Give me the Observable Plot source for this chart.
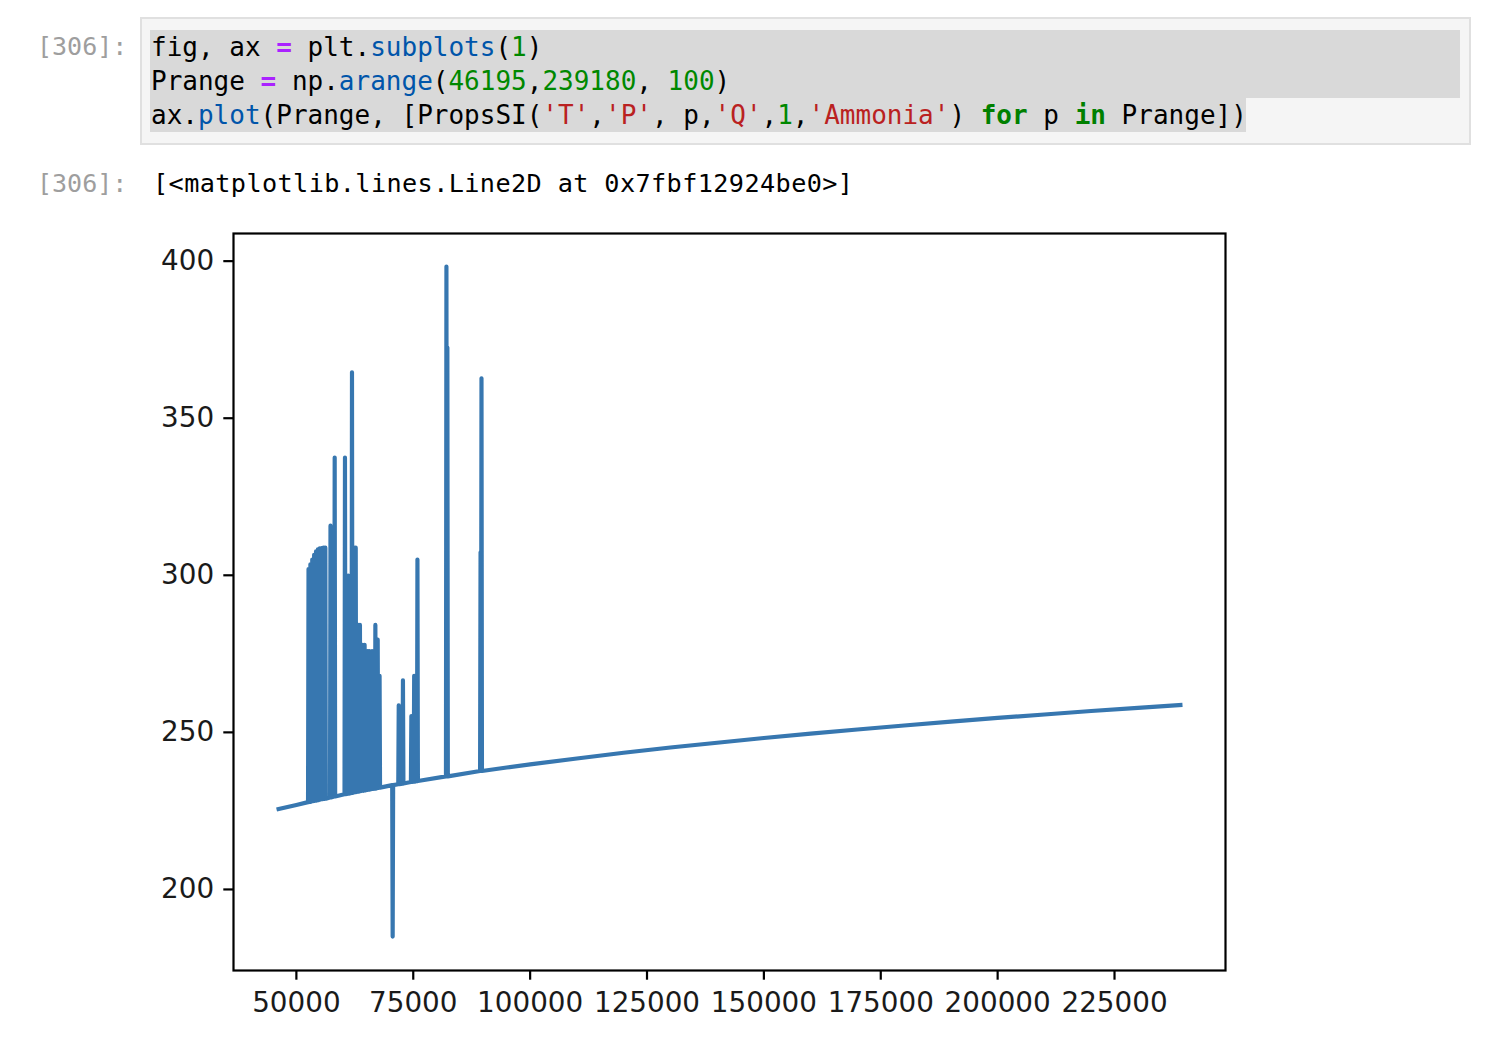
<!DOCTYPE html>
<html>
<head>
<meta charset="utf-8">
<script src="https://cdn.jsdelivr.net/npm/d3@7"></script>
<script src="https://cdn.jsdelivr.net/npm/@observablehq/plot@0.6"></script>
<style>
  html, body { margin: 0; padding: 0; background: #ffffff; }
  body { width: 1490px; height: 1058px; position: relative; overflow: hidden; }
  .mono { font-family: "DejaVu Sans Mono", monospace; white-space: pre; }
  .prompt { position: absolute; color: #9e9e9e; font-size: 25px; line-height: 34px; }
  .cell { position: absolute; left: 140px; top: 17px; width: 1327px; height: 124px; border: 2px solid #e0e0e0; background: #f5f5f5; }
  .sel { position: absolute; background: #d9d9d9; }
  .line { position: absolute; left: 151px; height: 34px; font-size: 26px; line-height: 34px; color: #000; display: flex; }
  .line span { display: block; }
  .op { color: #aa22ff; font-weight: bold; }
  .prop { color: #0055aa; }
  .num { color: #008800; }
  .str { color: #ba2121; }
  .kw { color: #008000; font-weight: bold; }
  .out { position: absolute; left: 153px; top: 167px; font-size: 25.2px; letter-spacing: 0.4px; line-height: 34px; color: #000; }
  #chart { position: absolute; left: 140px; top: 220px; }
</style>
</head>
<body>
<div class="prompt mono" style="left:37px; top:30px;">[306]:</div>
<div class="cell"></div>
<div class="sel" style="left:150px; top:30px; width:1310px; height:68px;"></div>
<div class="sel" style="left:150px; top:98px; width:1096px; height:34px;"></div>
<div class="line mono" style="top:30px;"><span>fig, ax </span><span class="op">=</span><span> plt.</span><span class="prop">subplots</span><span>(</span><span class="num">1</span><span>)</span></div>
<div class="line mono" style="top:64px;"><span>Prange </span><span class="op">=</span><span> np.</span><span class="prop">arange</span><span>(</span><span class="num">46195</span><span>,</span><span class="num">239180</span><span>, </span><span class="num">100</span><span>)</span></div>
<div class="line mono" style="top:98px;"><span>ax.</span><span class="prop">plot</span><span>(Prange, [PropsSI(</span><span class="str">'T'</span><span>,</span><span class="str">'P'</span><span>, p,</span><span class="str">'Q'</span><span>,</span><span class="num">1</span><span>,</span><span class="str">'Ammonia'</span><span>) </span><span class="kw">for</span><span> p </span><span class="kw">in</span><span> Prange])</span></div>
<div class="prompt mono" style="left:37px; top:167px;">[306]:</div>
<div class="out mono">[&lt;matplotlib.lines.Line2D at 0x7fbf12924be0&gt;]</div>
<div id="chart"></div>
<script>
// Sample step of Prange (np.arange step in the cell above)
const sampleStep = 100;

// Saturation curve readings (pressure in Pa, temperature in K)
const basePressure = [46195, 50000, 95000, 100000, 110000, 120000, 130000, 140000, 150000, 160000, 170000, 180000, 190000, 200000, 210000, 220000, 230000, 239095];
const baseTemp     = [225.6, 226.9, 238.8, 239.8, 241.7, 243.5, 245.2, 246.7, 248.2, 249.6, 250.9, 252.2, 253.4, 254.6, 255.7, 256.8, 257.8, 258.7];

// Erroneous samples (spikes): pressure, returned temperature, curve temperature at its foot
const spikePressure = [52595, 52995, 53395, 53795, 54195, 54595, 54995, 55395, 55795, 56195,
                       57295, 58195, 60395, 61095, 61895, 62295, 62695, 63195, 63595, 64195,
                       64595, 65195, 65595, 66195, 66895, 67395, 67795, 70595, 71895, 72795,
                       74595, 75195, 75895, 82095, 82295, 89395, 89595];
const spikeTemp     = [302.0, 303.5, 305.0, 306.5, 307.6, 308.3, 308.6, 308.7, 308.8, 308.8,
                       315.8, 337.5, 337.5, 299.9, 364.6, 308.8, 308.8, 284.2, 284.2, 277.9,
                       277.9, 275.9, 275.9, 275.9, 284.2, 279.5, 268.0, 185.0, 258.6, 266.6,
                       255.2, 268.0, 305.0, 398.3, 372.5, 307.3, 362.7];
const spikeFoot     = [227.8, 227.9, 228.1, 228.2, 228.3, 228.4, 228.6, 228.7, 228.8, 228.9,
                       229.3, 229.6, 230.3, 230.5, 230.7, 230.9, 231.0, 231.1, 231.3, 231.4,
                       231.5, 231.7, 231.8, 232.0, 232.1, 232.3, 232.4, 233.2, 233.5, 233.7,
                       234.2, 234.3, 234.5, 236.0, 236.0, 237.7, 237.7];

const xTicks = [50000, 75000, 100000, 125000, 150000, 175000, 200000, 225000];
const yTicks = [200, 250, 300, 350, 400];

// Build the line table
const rows = [];
basePressure.forEach((p, i) => rows.push({p, t: baseTemp[i]}));
spikePressure.forEach((p, i) => {
  rows.push({p: p - sampleStep, t: spikeFoot[i]});
  rows.push({p, t: spikeTemp[i]});
  rows.push({p: p + sampleStep, t: spikeFoot[i]});
});
rows.sort((a, b) => a.p - b.p);

const chart = Plot.plot({
  width: 1100,
  height: 810,
  marginLeft: 93,
  marginRight: 15,
  marginTop: 13,
  marginBottom: 60,
  style: {fontFamily: "DejaVu Sans", fontSize: "27.8px", color: "#1a1a1a", background: "transparent", overflow: "visible"},
  x: {domain: [36550, 248740], label: null},
  y: {domain: [174.2, 408.8], label: null},
  marks: [
    Plot.line(rows, {x: "p", y: "t", stroke: "#3777b0", strokeWidth: 4.17, strokeLinejoin: "round", strokeLinecap: "square"}),
    Plot.frame({stroke: "#000", strokeWidth: 2.2}),
    Plot.axisX({ticks: xTicks, tickFormat: d3.format("d"), tickSize: 9.7, tickPadding: 12, strokeWidth: 2.2, stroke: "#000", fontSize: 27.8, label: null}),
    Plot.axisY({ticks: yTicks, tickFormat: d3.format("d"), tickSize: 9.7, tickPadding: 9.7, strokeWidth: 2.2, stroke: "#000", fontSize: 27.8, label: null})
  ]
});
document.getElementById("chart").appendChild(chart);
</script>
</body>
</html>
